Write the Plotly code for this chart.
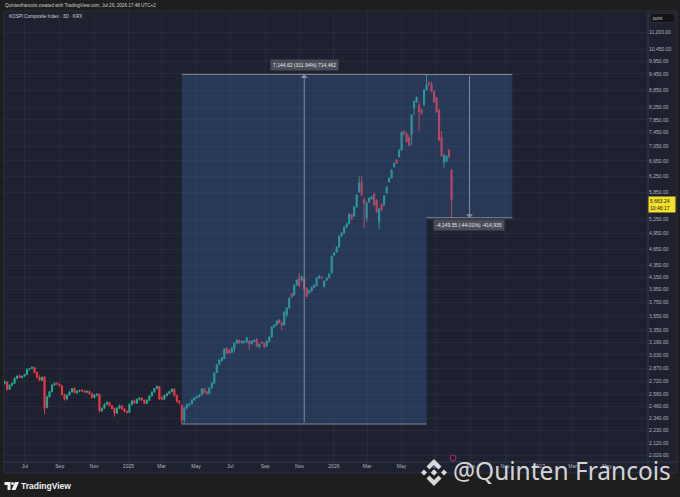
import numpy as np
import pandas as pd
import plotly.graph_objects as go

# KOSPI Composite Index, 3D candles
first_bar = "2024-05-26"
last_bar = "2026-07-29"

opens = [
    2700, 2715, 2636, 2680, 2700, 2755, 2785, 2765, 2780, 2800,
    2858, 2870, 2880, 2820, 2765, 2735, 2770, 2450, 2556, 2610,
    2682, 2700, 2693, 2674, 2580, 2535, 2575, 2608, 2645, 2600,
    2617, 2625, 2618, 2605, 2615, 2590, 2550, 2578, 2585, 2417,
    2440, 2482, 2500, 2468, 2440, 2395, 2442, 2465, 2435, 2410,
    2399, 2480, 2515, 2492, 2530, 2545, 2525, 2490, 2522, 2565,
    2605, 2645, 2665, 2545, 2532, 2570, 2590, 2612, 2638, 2570,
    2510, 2470, 2330, 2445, 2475, 2484, 2524, 2548, 2558, 2578,
    2640, 2610, 2590, 2650, 2700, 2820, 2915, 2960, 2985, 3110,
    3090, 3060, 3110, 3179, 3210, 3180, 3185, 3195, 3205, 3170,
    3200, 3230, 3135, 3192, 3179, 3140, 3200, 3258, 3393, 3420,
    3490, 3450, 3420, 3560, 3665, 3880, 3860, 4021, 4140, 4105,
    4120, 3973, 3900, 3925, 3985, 4010, 4138, 4150, 4000, 4100,
    4140, 4220, 4540, 4597, 4691, 4906, 4965, 5087, 5150, 5340,
    5320, 5516, 5860, 6103, 5690, 5276, 5630, 5700, 5813, 5674,
    5191, 5561, 5561, 5836, 6103, 6203, 6485, 6671, 6754, 6946,
    7472, 7420, 7300, 7400, 8230, 8436, 8330, 8167, 8350, 8860,
    9110, 9037, 8790, 8580, 8167, 7300, 6617, 6640, 6946, 6406,
]
highs = [
    2730, 2722, 2690, 2710, 2765, 2790, 2800, 2785, 2805, 2865,
    2875, 2896, 2888, 2830, 2790, 2775, 2780, 2570, 2620, 2690,
    2710, 2712, 2700, 2680, 2590, 2580, 2615, 2650, 2660, 2625,
    2632, 2640, 2630, 2625, 2620, 2600, 2585, 2592, 2590, 2450,
    2490, 2510, 2505, 2475, 2450, 2450, 2480, 2475, 2445, 2420,
    2490, 2525, 2530, 2540, 2555, 2550, 2530, 2530, 2575, 2615,
    2650, 2680, 2670, 2565, 2580, 2600, 2620, 2645, 2645, 2580,
    2525, 2480, 2455, 2490, 2492, 2530, 2555, 2565, 2585, 2645,
    2648, 2620, 2655, 2710, 2825, 2920, 2975, 3005, 3110, 3125,
    3100, 3125, 3185, 3225, 3230, 3210, 3215, 3260, 3215, 3215,
    3225, 3245, 3175, 3200, 3185, 3212, 3265, 3400, 3430, 3485,
    3500, 3465, 3615, 3675, 3825, 3895, 4030, 4110, 4226, 4175,
    4130, 3985, 3945, 3995, 4030, 4145, 4180, 4165, 4095, 4150,
    4215, 4530, 4600, 4700, 4920, 4980, 5100, 5180, 5370, 5370,
    5530, 5800, 6250, 6260, 5720, 5640, 5730, 5770, 5850, 5690,
    5490, 5600, 5790, 6000, 6215, 6420, 6600, 6700, 6960, 7500,
    7540, 7480, 7380, 8020, 8480, 8620, 8450, 8210, 8870, 9435,
    9180, 9150, 8850, 8620, 8200, 7500, 6830, 6800, 6980, 6430,
]
lows = [
    2688, 2620, 2630, 2668, 2695, 2745, 2760, 2755, 2775, 2795,
    2845, 2860, 2810, 2755, 2725, 2730, 2386, 2440, 2550, 2605,
    2670, 2685, 2665, 2570, 2520, 2525, 2570, 2600, 2595, 2585,
    2605, 2610, 2598, 2595, 2580, 2540, 2540, 2560, 2398, 2405,
    2435, 2475, 2460, 2430, 2360, 2385, 2435, 2425, 2400, 2390,
    2395, 2470, 2485, 2488, 2520, 2515, 2480, 2485, 2515, 2560,
    2600, 2640, 2525, 2525, 2528, 2560, 2585, 2605, 2560, 2500,
    2480, 2290.38, 2300, 2430, 2460, 2478, 2520, 2540, 2550, 2575,
    2590, 2580, 2585, 2645, 2695, 2815, 2905, 2950, 2975, 3045,
    3040, 3055, 3060, 3170, 3170, 3170, 3175, 3175, 3090, 3160,
    3190, 3130, 3105, 3170, 3120, 3130, 3185, 3250, 3385, 3410,
    3440, 3351, 3415, 3530, 3655, 3820, 3850, 4010, 3995, 4080,
    3950, 3830, 3880, 3915, 3975, 4000, 4125, 4120, 3975, 4090,
    4130, 4210, 4520, 4580, 4680, 4890, 4950, 5060, 5140, 5230,
    5300, 5500, 5840, 5770, 5066, 5200, 5600, 5680, 5540, 5390,
    5045, 5430, 5540, 5820, 6090, 6190, 6470, 6580, 6740, 6920,
    7380, 7160, 7040, 7080, 8000, 8420, 7480, 8020, 8300, 8840,
    9020, 8780, 8420, 8080, 7200, 6760, 6460, 6600, 6720, 5279.25,
]
closes = [
    2720, 2636, 2680, 2700, 2755, 2782, 2765, 2780, 2800, 2858,
    2868, 2880, 2820, 2765, 2735, 2770, 2441, 2556, 2610, 2682,
    2700, 2693, 2674, 2580, 2535, 2575, 2608, 2645, 2600, 2617,
    2625, 2618, 2605, 2615, 2590, 2550, 2578, 2585, 2417, 2440,
    2482, 2500, 2468, 2440, 2395, 2442, 2465, 2435, 2410, 2399,
    2480, 2515, 2492, 2530, 2545, 2525, 2490, 2522, 2565, 2605,
    2645, 2665, 2535, 2532, 2570, 2590, 2612, 2638, 2570, 2510,
    2495, 2328, 2445, 2480, 2484, 2524, 2548, 2558, 2578, 2640,
    2600, 2590, 2650, 2704, 2816, 2909, 2968, 2992, 3103, 3054,
    3055, 3116, 3179, 3218, 3180, 3200, 3200, 3250, 3166, 3205,
    3215, 3141, 3166, 3179, 3128, 3205, 3258, 3393, 3420, 3476,
    3450, 3420, 3605, 3665, 3816, 3832, 4021, 4103, 4005, 4160,
    3960, 3840, 3930, 3985, 4021, 4138, 4172, 4135, 4085, 4135,
    4205, 4520, 4580, 4690, 4906, 4965, 5087, 5150, 5362, 5255,
    5516, 5790, 6078, 5790, 5606, 5606, 5720, 5743, 5561, 5405,
    5472, 5449, 5766, 5980, 6203, 6406, 6590, 6590, 6946, 7472,
    7420, 7175, 7090, 8000, 8470, 8600, 8120, 8060, 8860, 9040,
    9040, 8800, 8436, 8100, 7233, 6780, 6808, 6780, 6754, 5663.24,
]

# second measure drawn by hand from near the top down to the last low
drop_from = 9428.60
drop_end = "2026-11-14"
countdown = "10:46:17"

price_ticks = [11200, 10450, 9950, 9450, 8850, 8250, 7850, 7450, 7050, 6650,
               6250, 5850, 5250, 4950, 4650, 4350, 4150, 3950, 3750, 3550,
               3350, 3190, 3030, 2870, 2720, 2580, 2460, 2340, 2230, 2120, 2020]
month_ticks = ["2024-07-01", "2024-09-01", "2024-11-01", "2025-01-01", "2025-03-01",
               "2025-05-01", "2025-07-01", "2025-09-01", "2025-11-01", "2026-01-01",
               "2026-03-01", "2026-05-01", "2026-07-01", "2026-09-01", "2026-11-01",
               "2027-01-01", "2027-03-01", "2027-05-01"]
month_labels = ["Jul", "Sep", "Nov", "2025", "Mar", "May", "Jul", "Sep", "Nov", "2026",
                "Mar", "May", "Jul", "Sep", "Nov", "2027", "Mar", "May"]

UP = "#22ab94"
DOWN = "#f23645"
PANE = "#1e2130"
OUTER = "#1e1e1e"
GRID = "rgba(255,255,255,0.045)"
TXT = "#b2b5be"
EDGE = "#8a8d96"
BOXFILL = "rgba(58,110,170,0.32)"

W, H = 680, 497
ML, MR, MT, MB = 4, 32, 12, 35


def px(x):
    return (x - ML) / (W - ML - MR)


def py(y):
    return (H - MB - y) / (H - MT - MB)


bar_dates = pd.date_range(first_bar, last_bar, periods=len(closes))

lo_i = int(np.argmin(lows))
hi_i = int(np.argmax(highs))
d_lo, d_hi = bar_dates[lo_i], bar_dates[hi_i]
p_lo, p_hi = lows[lo_i], highs[hi_i]
d_end = pd.Timestamp(drop_end)
drop_to = lows[-1]
mid1 = d_lo + (d_hi - d_lo) / 2
mid2 = d_hi + (d_end - d_hi) / 2

fig = go.Figure()

# measure boxes
fig.add_trace(go.Scatter(x=[d_lo, d_hi, d_hi, d_lo, d_lo], y=[p_lo, p_lo, p_hi, p_hi, p_lo],
                         fill="toself", fillcolor=BOXFILL, mode="lines", line=dict(width=0),
                         hoverinfo="skip"))
fig.add_trace(go.Scatter(x=[d_hi, d_end, d_end, d_hi, d_hi],
                         y=[drop_to, drop_to, drop_from, drop_from, drop_to],
                         fill="toself", fillcolor=BOXFILL, mode="lines", line=dict(width=0),
                         hoverinfo="skip"))
fig.add_trace(go.Scatter(x=[d_lo, d_hi, None, d_lo, d_hi, None, d_hi, d_end, None, d_hi, d_end],
                         y=[p_lo, p_lo, None, p_hi, p_hi, None, drop_from, drop_from, None, drop_to, drop_to],
                         mode="lines", line=dict(color=EDGE, width=1), hoverinfo="skip"))

fig.add_trace(go.Candlestick(
    x=bar_dates, open=opens, high=highs, low=lows, close=closes,
    increasing=dict(line=dict(color=UP, width=1), fillcolor=UP),
    decreasing=dict(line=dict(color=DOWN, width=1), fillcolor=DOWN),
    whiskerwidth=0, hoverinfo="skip"))

up_diff = p_hi - p_lo
dn_diff = drop_to - drop_from
label1 = f"{up_diff:,.2f} ({up_diff / p_lo * 100:.2f}%) {up_diff * 100:,.0f}"
label2 = f"{dn_diff:,.2f} ({dn_diff / drop_from * 100:.2f}%) {dn_diff * 100:,.0f}"

ann = [
    dict(x=mid1, y=np.log10(p_hi), ax=mid1, ay=np.log10(p_lo), xref="x", yref="y",
         axref="x", ayref="y", text="", showarrow=True, arrowhead=1, arrowsize=1.2,
         arrowwidth=1, arrowcolor=EDGE, standoff=0, startstandoff=0),
    dict(x=mid2, y=np.log10(drop_to), ax=mid2, ay=np.log10(drop_from), xref="x", yref="y",
         axref="x", ayref="y", text="", showarrow=True, arrowhead=1, arrowsize=1.2,
         arrowwidth=1, arrowcolor=EDGE, standoff=0, startstandoff=0),
    dict(x=mid1, y=np.log10(p_hi), xref="x", yref="y", yshift=9, text=label1,
         showarrow=False, bgcolor="#4a4d57", borderpad=2,
         font=dict(size=5, color="#e6e7eb", family="Liberation Sans")),
    dict(x=mid2, y=np.log10(drop_to), xref="x", yref="y", yshift=-7, text=label2,
         showarrow=False, bgcolor="#4a4d57", borderpad=2,
         font=dict(size=5, color="#e6e7eb", family="Liberation Sans")),
    # last price label
    dict(x=1, y=np.log10(closes[-1]), xref="paper", yref="y", xanchor="left", yanchor="top",
         yshift=4, text=f"{closes[-1]:,.2f}<br>{countdown}", showarrow=False, align="left",
         bgcolor="#f5e12c", borderpad=1, width=24,
         font=dict(size=5, color="#131722", family="Liberation Sans")),
    # header and pane title
    dict(x=px(3), y=py(5.5), xref="paper", yref="paper", xanchor="left", yanchor="middle",
         text="Quintenfrancois created with TradingView.com, Jul 29, 2026 17:48 UTC+2",
         showarrow=False, font=dict(size=4.6, color="#d0d0d0", family="Liberation Sans")),
    dict(x=px(7), y=py(16.5), xref="paper", yref="paper", xanchor="left", yanchor="middle",
         text="KOSPI Composite Index · 3D · KRX", showarrow=False,
         font=dict(size=4.6, color="#d1d4dc", family="Liberation Sans")),
    dict(x=px(650), y=py(17.5), xref="paper", yref="paper", xanchor="left", yanchor="middle",
         text="point", showarrow=False, align="left", width=20, bgcolor="#141417",
         bordercolor="#2c2c33", borderpad=1.5,
         font=dict(size=4.5, color="#c8c8c8", family="Liberation Sans")),
    # footer
    dict(x=px(19), y=py(486), xref="paper", yref="paper", xanchor="left", yanchor="middle",
         text="<b>TradingView</b>", showarrow=False,
         font=dict(size=8.5, color="#f0f0f0", family="Liberation Sans")),
    dict(x=px(451), y=py(470.5), xref="paper", yref="paper", xanchor="left", yanchor="middle",
         text="@Quinten Francois", showarrow=False,
         font=dict(size=24.5, color="rgba(236,236,236,0.9)", family="Noto Sans")),
]


def poly(points):
    return "M " + " L ".join(f"{px(a):.5f},{py(b):.5f}" for a, b in points) + " Z"


def diamond(cx, cy, r):
    return poly([(cx - r, cy), (cx, cy - r), (cx + r, cy), (cx, cy + r)])


WM = "rgba(236,236,236,0.9)"
shapes = [
    dict(type="rect", xref="paper", yref="paper", x0=px(4), x1=px(677), y0=py(473), y1=py(11),
         fillcolor=PANE, line=dict(color="#2b2e3b", width=1), layer="below"),
    dict(type="line", xref="paper", yref="paper", x0=1, x1=1, y0=py(473), y1=py(11),
         line=dict(color="#363a48", width=1)),
    dict(type="line", xref="paper", yref="paper", x0=0, x1=px(677), y0=0, y1=0,
         line=dict(color="#363a48", width=1)),
    dict(type="line", xref="paper", yref="y", x0=0, x1=1,
         y0=np.log10(closes[-1]), y1=np.log10(closes[-1]),
         line=dict(color="rgba(200,200,200,0.45)", width=1, dash="dot"), layer="below"),
    # event marker on the time axis
    dict(type="circle", xref="paper", yref="paper", x0=px(450), x1=px(456), y0=py(461), y1=py(455),
         fillcolor=PANE, line=dict(color="#b0306a", width=1)),
    # TradingView logo
    dict(type="path", xref="paper", yref="paper",
         path=poly([(4.5, 482), (10.5, 482), (10.5, 490), (7.5, 490), (7.5, 485), (4.5, 485)]),
         fillcolor="#f0f0f0", line=dict(width=0)),
    dict(type="circle", xref="paper", yref="paper", x0=px(11), x1=px(14), y0=py(485), y1=py(482),
         fillcolor="#f0f0f0", line=dict(width=0)),
    dict(type="path", xref="paper", yref="paper",
         path=poly([(15, 482), (19, 482), (15.5, 490), (11.5, 490)]),
         fillcolor="#f0f0f0", line=dict(width=0)),
    # watermark logo
    dict(type="path", xref="paper", yref="paper", path=diamond(434, 472.5, 3.2),
         fillcolor=WM, line=dict(width=0)),
    dict(type="path", xref="paper", yref="paper", path=diamond(424, 472.5, 3),
         fillcolor=WM, line=dict(width=0)),
    dict(type="path", xref="paper", yref="paper", path=diamond(444, 472.5, 3),
         fillcolor=WM, line=dict(width=0)),
    dict(type="path", xref="paper", yref="paper",
         path=poly([(434, 459), (441.5, 466.5), (438.5, 469.5), (434, 465), (429.5, 469.5), (426.5, 466.5)]),
         fillcolor=WM, line=dict(width=0)),
    dict(type="path", xref="paper", yref="paper",
         path=poly([(434, 486), (441.5, 478.5), (438.5, 475.5), (434, 480), (429.5, 475.5), (426.5, 478.5)]),
         fillcolor=WM, line=dict(width=0)),
]

fig.update_layout(
    width=W, height=H, margin=dict(l=ML, r=MR, t=MT, b=MB),
    paper_bgcolor=OUTER, plot_bgcolor=PANE, showlegend=False,
    boxgap=0.35, annotations=ann, shapes=shapes,
)
fig.update_xaxes(type="date", range=["2024-05-25", "2027-07-13"], rangeslider_visible=False,
                 tickvals=month_ticks, ticktext=month_labels, ticks="",
                 showgrid=True, gridcolor=GRID, gridwidth=1, zeroline=False, showline=False,
                 tickfont=dict(size=5, color=TXT, family="Liberation Sans"))
fig.update_yaxes(type="log", range=[np.log10(1964), np.log10(12145)], side="right",
                 tickvals=price_ticks, ticktext=[f"{v:,.2f}" for v in price_ticks], ticks="",
                 showgrid=True, gridcolor=GRID, gridwidth=1, zeroline=False, showline=False,
                 tickfont=dict(size=5, color=TXT, family="Liberation Sans"))

# the page's default body margin would push the chart 8px off the window edge
fig.write_html("out.html", config={"displayModeBar": False},
               post_script="document.body.style.margin='0px';")
